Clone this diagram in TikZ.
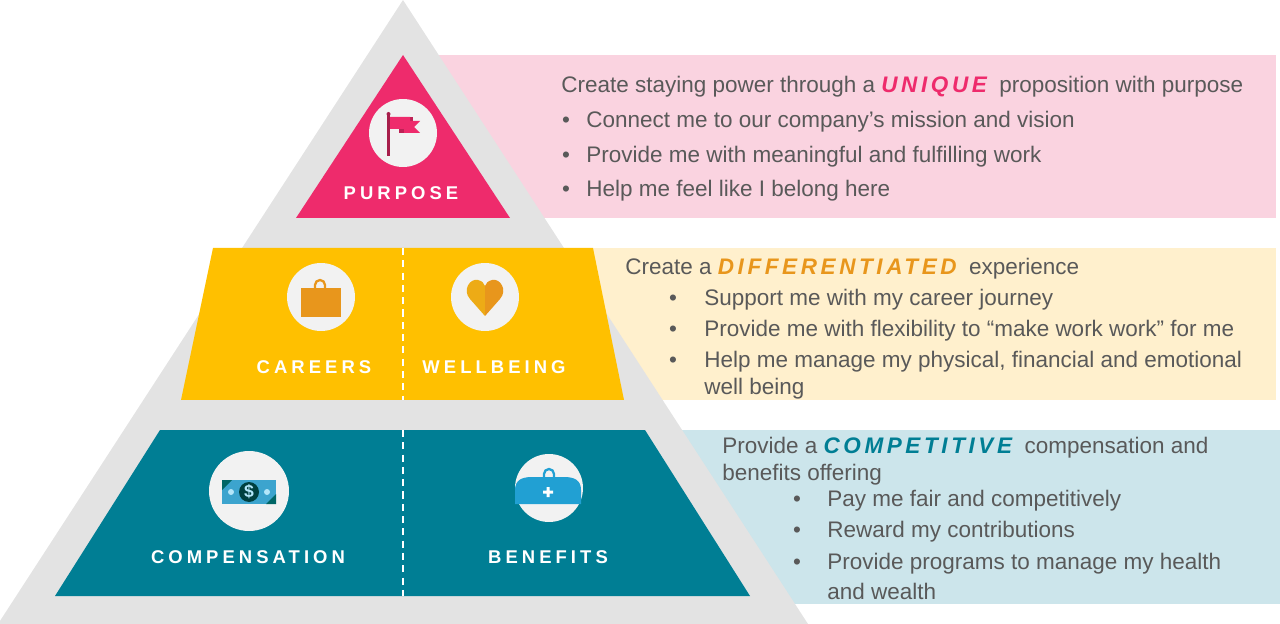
\documentclass[tikz,border=0pt]{standalone}
\usepackage{fontspec}
\setmainfont{Liberation Sans}
\newfontfamily\lbl[LetterSpace=22]{Liberation Sans Bold}
\newfontfamily\emfont[LetterSpace=16]{Liberation Sans Bold Italic}
\definecolor{pgrey}{HTML}{E3E3E3}
\definecolor{ppink}{HTML}{EE2B6C}
\definecolor{lpink}{HTML}{FAD3E0}
\definecolor{pyel}{HTML}{FFC000}
\definecolor{lyel}{HTML}{FFF0CD}
\definecolor{pteal}{HTML}{007E94}
\definecolor{lteal}{HTML}{CCE5EB}
\definecolor{tgrey}{HTML}{595959}
\definecolor{orng}{HTML}{E8961C}
\definecolor{circ}{HTML}{F2F2F2}
\begin{document}
\begin{tikzpicture}[x=0.02cm,y=-0.02cm,
  lab/.style={text=white,font=\lbl\fontsize{10.5}{12}\selectfont},
  body/.style={text=tgrey,anchor=west,font=\fontsize{12.8}{16}\selectfont,inner sep=0pt,yshift=-0.04cm},
  bul/.style={text=tgrey,font=\fontsize{12.8}{16}\selectfont,inner sep=0pt,yshift=-0.04cm},
  ico/.style={circle,fill=circ,minimum size=1.36cm,inner sep=0pt},
  dl/.style={white,line width=1.2pt,dash pattern=on 4pt off 3pt}]
\useasboundingbox (0,0) rectangle (1280,624);
% side bands
\fill[lpink] (420,55) rectangle (1276,218);
\fill[lyel] (540,248) rectangle (1276,400);
\fill[lteal] (640,430) rectangle (1280,604);
% grey pyramid
\fill[pgrey] (403,0) -- (808,624) -- (-2,624) -- cycle;
% tiers
\fill[ppink] (403,55) -- (510,218) -- (296,218) -- cycle;
\fill[pyel] (213,248) -- (593,248) -- (624,400) -- (181,400) -- cycle;
\fill[pteal] (160,430) -- (645,430) -- (750,596) -- (55,596) -- cycle;
\coordinate (d1) at (403,248); \coordinate (d2) at (403,400);
\coordinate (d3) at (403,430); \coordinate (d4) at (403,596);
\draw[dl] (d1) -- (d2); \draw[dl] (d3) -- (d4);
% icon circles
\node[ico] (ip) at (403,133) {};
\node[ico] (ic) at (321,297) {};
\node[ico] (iw) at (485,297) {};
\node[ico,minimum size=1.6cm] (im) at (249,491) {};
\node[ico] (ib) at (549,488) {};
% flag
\fill[ppink!70!black] (387,113) rectangle (390,156);
\fill[ppink!70!black] (388.5,114) circle (2);
\fill[ppink!80!black] (399,117) rectangle (413,133);
\fill[ppink] (390,117) -- (410,117) -- (410,121) -- (420,121) -- (414,127) -- (420,133) -- (404,133) -- (404,129) -- (390,129) -- cycle;
% briefcase
\draw[orng,line width=1.3pt] (315,289) -- (315,285) arc (180:360:5) -- (325,289);
\fill[orng] (301,288) rectangle (341,317);
% heart
\fill[orng!80!yellow] (485,316) -- (470,299) .. controls (462,290) and (470,278) .. (478,280) .. controls (482,281) and (484,283) .. (485,286) -- cycle;
\fill[orng] (485,316) -- (500,299) .. controls (508,290) and (500,278) .. (492,280) .. controls (488,281) and (486,283) .. (485,286) -- cycle;
% money
\fill[cyan!60!teal!90] (222,480) rectangle (276,504);
\fill[teal!80!black] (222,480) -- (232,480) -- (222,490) -- cycle;
\fill[teal!80!black] (276,504) -- (266,504) -- (276,494) -- cycle;
\fill[teal!50!black] (249,492) circle (10);
\fill[cyan!30] (231,492) circle (3) (267,492) circle (3);
\node[text=cyan!30,font=\bfseries\fontsize{10}{10}\selectfont] (dol) at (249,492) {\$};
% medical bag
\draw[cyan!70!teal,line width=1.3pt] (544,477) -- (544,474) arc (180:360:5) -- (554,477);
\fill[cyan!70!teal] (515,504) -- (515,490) .. controls (515,480) and (522,477) .. (532,477) -- (564,477) .. controls (574,477) and (581,480) .. (581,490) -- (581,504) -- cycle;
\fill[white] (543,490.5) rectangle (553,493.5) (546.5,487) rectangle (549.5,497);
% labels
\node[lab] (lp) at (401,193) {PURPOSE};
\node[lab] (lc) at (314,367) {CAREERS};
\node[lab] (lw) at (494,367) {WELLBEING};
\node[lab] (lm) at (248,557) {COMPENSATION};
\node[lab] (lb) at (548,557) {BENEFITS};
% texts pink
\node[body] (t1) at (561,85) {Create staying power through a \textcolor{ppink}{\emfont UNIQUE}\ \ proposition with purpose};
\foreach \y/\t [count=\i] in {120/{Connect me to our company’s mission and vision},155/{Provide me with meaningful and fulfilling work},189/{Help me feel like I belong here}}{
  \node[bul] (p\i) at (566,\y) {\textbullet}; \node[body] (pt\i) at (586,\y) {\t};}
% yellow
\node[body] (t2) at (625,267) {Create a \textcolor{orng}{\emfont DIFFERENTIATED}\ \ experience};
\foreach \y/\t [count=\i] in {298/{Support me with my career journey},329/{Provide me with flexibility to “make work work” for me},360/{Help me manage my physical, financial and emotional}}{
  \node[bul] (y\i) at (673,\y) {\textbullet}; \node[body] (yt\i) at (704,\y) {\t};}
\node[body] (b24) at (704,387) {well being};
% teal
\node[body] (t3) at (722,446) {Provide a \textcolor{pteal}{\emfont COMPETITIVE}\ \ compensation and};
\node[body] (t3b) at (722,473) {benefits offering};
\foreach \y/\t [count=\i] in {499/{Pay me fair and competitively},530/{Reward my contributions},562/{Provide programs to manage my health}}{
  \node[bul] (c\i) at (797,\y) {\textbullet}; \node[body] (ct\i) at (827,\y) {\t};}
\node[body] (b34) at (827,589) {and wealth};
\end{tikzpicture}
\end{document}
